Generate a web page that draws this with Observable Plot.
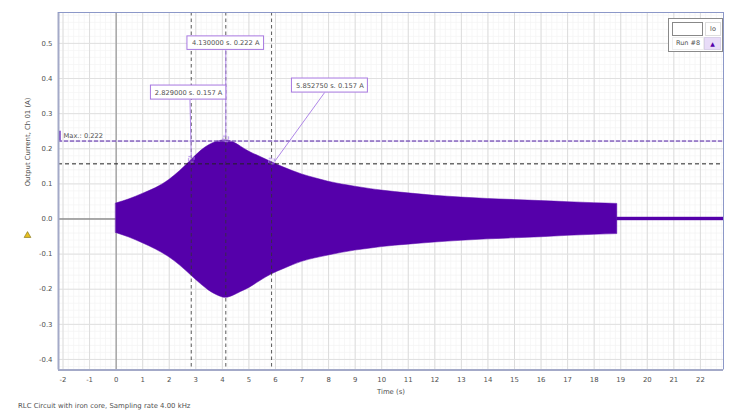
<!DOCTYPE html>
<html>
<head>
<meta charset="utf-8">
<script src="https://cdn.jsdelivr.net/npm/d3@7"></script>
<script src="https://cdn.jsdelivr.net/npm/@observablehq/plot@0.6"></script>
<style>
html,body{margin:0;padding:0;background:#fff;}
#wrap{position:relative;width:733px;height:415px;overflow:hidden;font-family:"DejaVu Sans",sans-serif;color:#444;}
#caption{position:absolute;left:18px;top:401.5px;font-size:6.9px;line-height:9px;white-space:nowrap;color:#505050;}
#legend{position:absolute;left:668px;top:18px;width:53px;height:32px;border:1.5px solid #8a8a8a;background:#fff;font-size:6.5px;color:#505050;}
#legend div{position:absolute;box-sizing:border-box;text-align:center;}
</style>
</head>
<body>
<div id="wrap">
<div id="chart"></div>
<div id="caption">RLC Circuit with iron core, Sampling rate 4.00 kHz</div>
<div id="legend">
  <div style="left:3px;top:2.5px;width:31px;height:14px;border:1.2px solid #888;"></div>
  <div style="left:36px;top:2.5px;width:16px;height:14px;border:1px solid #ddd;line-height:12px;">lo</div>
  <div style="left:3px;top:17.5px;width:32px;height:13px;border:1px solid #eee;line-height:11px;">Run #8</div>
  <div style="left:35px;top:17.5px;width:17px;height:13px;background:#e8dcf8;border:1px solid #d8d0e8;color:#5500aa;line-height:11px;font-size:6px;">▲</div>
</div>
</div>
<script>
const times =  [0, 0.5, 1, 1.5, 2, 2.4, 2.83, 3.2, 3.5, 3.8, 4.13, 4.4, 4.7, 5, 5.4, 5.85, 6.3, 7, 7.5, 8, 9, 9.6, 10, 11, 12, 13, 14, 15, 16, 17, 18, 18.87];
const upper =  [0.044, 0.056, 0.0715, 0.088, 0.111, 0.136, 0.167, 0.194, 0.210, 0.220, 0.224, 0.219, 0.206, 0.192, 0.178, 0.162, 0.147, 0.127, 0.116, 0.106, 0.092, 0.085, 0.081, 0.073, 0.066, 0.061, 0.057, 0.054, 0.051, 0.048, 0.045, 0.043];
const lower =  [-0.040, -0.053, -0.069, -0.087, -0.109, -0.132, -0.161, -0.186, -0.204, -0.217, -0.2246, -0.219, -0.208, -0.197, -0.178, -0.158, -0.143, -0.122, -0.112, -0.104, -0.090, -0.084, -0.080, -0.073, -0.067, -0.062, -0.058, -0.055, -0.052, -0.048, -0.045, -0.043];
const tailTimes = [18.87, 22.87];
const tailUpper = [0.004, 0.004];
const tailLower = [-0.004, -0.004];
const xTicks = d3.range(-2, 23);
const yTicks = [-0.4, -0.3, -0.2, -0.1, 0, 0.1, 0.2, 0.3, 0.4, 0.5];
const xMinor = d3.range(-20, 229, 2).map(d => d / 10);
const yMinor = d3.range(-21, 30).map(d => d / 50);
const cursors = [2.829, 4.13, 5.85275];
const maxValue = 0.222;
const halfLevel = 0.157;
const xDomain = [-2.17, 22.87];
const yDomain = [-0.43, 0.588];

const callouts = [
  {label: "2.829000 s. 0.157 A", x: 2.829, y: 0.170, x1: 1.31, x2: 4.15, y1: 0.340, y2: 0.380, lx: 2.78, ly: 0.340, px: 2.83, py: 0.175},
  {label: "4.130000 s. 0.222 A", x: 4.13, y: 0.228, x1: 2.685, x2: 5.57, y1: 0.4815, y2: 0.520, lx: 4.13, ly: 0.4815, px: 4.13, py: 0.235},
  {label: "5.852750 s. 0.157 A", x: 5.85275, y: 0.165, x1: 6.62, x2: 9.48, y1: 0.360, y2: 0.400, lx: 7.85, ly: 0.360, px: 5.98, py: 0.165}
];
const series = times.map((t, i) => ({t, hi: upper[i], lo: lower[i]}));
const tail = tailTimes.map((t, i) => ({t, hi: tailUpper[i], lo: tailLower[i]}));
const font = "DejaVu Sans, sans-serif";
const ink = "#505050";

const chart = Plot.plot({
  width: 733, height: 398,
  marginLeft: 58, marginRight: 10, marginTop: 12, marginBottom: 28.5,
  style: {background: "transparent", fontFamily: font, fontSize: "7px", color: ink},
  x: {domain: xDomain},
  y: {domain: yDomain},
  marks: [
    Plot.ruleX(xMinor, {stroke: "#f3f3f3", strokeWidth: 0.7}),
    Plot.ruleY(yMinor, {stroke: "#f3f3f3", strokeWidth: 0.7}),
    Plot.ruleX(xTicks, {stroke: "#dcdcdc", strokeWidth: 1}),
    Plot.ruleY(yTicks, {stroke: "#e0e0e0", strokeWidth: 1}),
    Plot.ruleX([0], {stroke: "#888", strokeWidth: 1}),
    Plot.ruleY([0], {x1: xDomain[0], x2: 0, stroke: "#666", strokeWidth: 1}),
    Plot.areaY(series, {x: "t", y1: "lo", y2: "hi", curve: "monotone-x", fill: "#5500aa", stroke: "#5500aa", strokeWidth: 0.5}),
    Plot.areaY(tail, {x: "t", y1: "lo", y2: "hi", fill: "#5500aa", stroke: "#5500aa", strokeWidth: 0.5}),
    Plot.ruleX(cursors, {stroke: "#333", strokeWidth: 1, strokeDasharray: "3.5,3", strokeOpacity: 0.8}),
    Plot.ruleY([maxValue], {stroke: "#cdb8f0", strokeWidth: 0.8}),
    Plot.ruleY([maxValue], {stroke: "#4a1a9a", strokeWidth: 0.9, strokeDasharray: "4,2"}),
    Plot.ruleY([halfLevel], {stroke: "#222", strokeWidth: 1, strokeDasharray: "4,3"}),
    Plot.link(callouts, {x1: "lx", y1: "ly", x2: "px", y2: "py", stroke: "#b088e8", strokeWidth: 1}),
    Plot.dot(callouts, {x: "x", y: "y", symbol: "square", r: 3.2, stroke: "#b088e8", fill: "#b088e8", fillOpacity: 0.2, strokeWidth: 0.8, strokeDasharray: "3,3"}),
    Plot.rect(callouts, {x1: "x1", x2: "x2", y1: "y1", y2: "y2", fill: "white", stroke: "#a878e0", strokeWidth: 1}),
    Plot.text(callouts, {x: d => (d.x1 + d.x2) / 2, y: d => (d.y1 + d.y2) / 2, text: "label", fontSize: 6.7, fill: ink}),
    Plot.rect([maxValue], {x1: xDomain[0], x2: -2.07, y1: maxValue, y2: 0.25, fill: "#6a28c0"}),
    Plot.text(["Max.: " + maxValue], {x: -1.98, y: 0.238, text: d => d, textAnchor: "start", fontSize: 6.7, fill: ink}),
    Plot.axisX(xTicks, {anchor: "bottom", label: null, tickSize: 0, tickPadding: 7, fontSize: 6.9, fill: ink, tickFormat: d => String(d)}),
    Plot.axisY(yTicks, {anchor: "left", label: null, tickSize: 0, tickPadding: 6, fontSize: 6.9, fill: ink, tickFormat: d => d.toFixed(1)}),
    Plot.text(["Time (s)"], {frameAnchor: "bottom", dx: 0, dy: 23.5, text: d => d, fontSize: 6.9, fill: ink}),
    Plot.text(["Output Current, Ch 01 (A)"], {frameAnchor: "left", y: 0.093, dx: -31, rotate: -90, text: d => d, fontSize: 6.9, fill: ink}),
    Plot.dot(["warning"], {frameAnchor: "left", y: -0.047, dx: -31, symbol: "triangle", r: 2.5, fill: "#e8c020", stroke: "#8a7a20", strokeWidth: 0.7}),
    Plot.ruleX([xDomain[0]], {stroke: "#a4aac8", strokeWidth: 2}),
    Plot.ruleY([yDomain[0]], {stroke: "#a4aac8", strokeWidth: 2}),
    Plot.ruleX([xDomain[1]], {stroke: "#8c98c8", strokeWidth: 1}),
    Plot.ruleY([yDomain[1]], {stroke: "#8c98c8", strokeWidth: 1})
  ]
});
document.getElementById("chart").appendChild(chart);
</script>
</body>
</html>
